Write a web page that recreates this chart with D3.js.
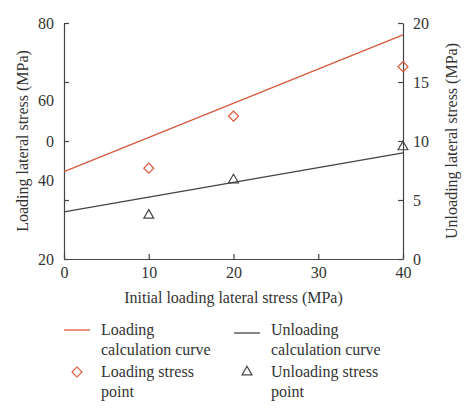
<!DOCTYPE html>
<html>
<head>
<meta charset="utf-8">
<script src="https://cdn.jsdelivr.net/npm/d3@7"></script>
<style>
  body { margin: 0; background: #fff; }
  text { font-family: "Liberation Serif", "DejaVu Serif", serif; fill: #333; }
</style>
</head>
<body>
<svg id="chart" width="474" height="417"></svg>
<script>
// data (right-axis units)
const lineX = [0, 40];
const loadingCurve = [7.4, 19.0];
const unloadingCurve = [4.0, 9.0];
const pointX = [10, 20, 40];
const loadingPoints = [7.7, 12.1, 16.3];
const unloadingPoints = [3.7, 6.7, 9.5];
const xTicks = [0, 10, 20, 30, 40];
const rightTicks = [0, 5, 10, 15, 20];
const leftTickVals = [20, 35, 50, 65, 80];
const leftTickLabels = ["20", "40", "0", "60", "80"];
const leftLabelShift = [0, -20, 0, 18, 0];

const red = "#d9583b", dark = "#444";
const fs = "16px";
const svg = d3.select("#chart");
const m = { left: 64, right: 403, top: 23, bottom: 259 };

const x = d3.scaleLinear().domain([0, 40]).range([m.left, m.right]);
const yR = d3.scaleLinear().domain([0, 20]).range([m.bottom, m.top]);
const yL = d3.scaleLinear().domain([20, 80]).range([m.bottom, m.top]);

function styleAxis(g) {
  g.select(".domain").attr("stroke", dark).attr("stroke-width", 1.2);
  g.selectAll(".tick line").attr("stroke", dark).attr("stroke-width", 1.2);
  g.selectAll(".tick text").style("font-size", fs).attr("fill", "#333");
}

svg.append("g").attr("transform", `translate(0,${m.bottom})`)
  .call(d3.axisBottom(x).tickValues(xTicks).tickSize(-5).tickSizeOuter(0).tickPadding(8))
  .call(styleAxis);

const gl = svg.append("g").attr("transform", `translate(${m.left},0)`)
  .call(d3.axisLeft(yL).tickValues(leftTickVals).tickSize(-5).tickSizeOuter(0).tickPadding(10)
    .tickFormat((d, i) => leftTickLabels[i]))
  .call(styleAxis);
gl.selectAll(".tick text").attr("dy", (d, i) => (5 + leftLabelShift[i]) + "px");

svg.append("g").attr("transform", `translate(${m.right},0)`)
  .call(d3.axisRight(yR).tickValues(rightTicks).tickSize(-5).tickSizeOuter(0).tickPadding(10))
  .call(styleAxis);

const line = d3.line().x(d => x(d[0])).y(d => yR(d[1]));
svg.append("path").datum(d3.zip(lineX, loadingCurve)).attr("d", line)
  .attr("fill", "none").attr("stroke", red).attr("stroke-width", 1.3);
svg.append("path").datum(d3.zip(lineX, unloadingCurve)).attr("d", line)
  .attr("fill", "none").attr("stroke", dark).attr("stroke-width", 1.3);

const square = d3.symbol().type(d3.symbolSquare).size(50);
const tri = d3.symbol().type(d3.symbolTriangle2 || d3.symbolTriangle).size(70);
svg.selectAll(".lp").data(d3.zip(pointX, loadingPoints)).join("path")
  .attr("d", square)
  .attr("transform", d => `translate(${x(d[0])},${yR(d[1])}) rotate(45)`)
  .attr("fill", "none").attr("stroke", red).attr("stroke-width", 1.2);
svg.selectAll(".up").data(d3.zip(pointX, unloadingPoints)).join("path")
  .attr("transform", d => `translate(${x(d[0])},${yR(d[1])})`)
  .attr("d", tri)
  .attr("fill", "none").attr("stroke", dark).attr("stroke-width", 1.2);

svg.append("text").attr("x", (m.left + m.right) / 2).attr("y", 303)
  .attr("text-anchor", "middle").style("font-size", fs)
  .text("Initial loading lateral stress (MPa)");
svg.append("text").attr("transform", `translate(28,${(m.top + m.bottom) / 2}) rotate(-90)`)
  .attr("text-anchor", "middle").style("font-size", fs)
  .text("Loading lateral stress (MPa)");
svg.append("text").attr("transform", `translate(457,${(m.top + m.bottom) / 2}) rotate(-90)`)
  .attr("text-anchor", "middle").style("font-size", fs)
  .text("Unloading lateral stress (MPa)");

// legend
const leg = svg.append("g").style("font-size", fs);
function legText(xp, yp, lines) {
  const t = leg.append("text").attr("x", xp).attr("y", yp);
  lines.forEach((s, i) => t.append("tspan").attr("x", xp).attr("dy", i ? 20 : 0).text(s));
}
leg.append("line").attr("x1", 64).attr("x2", 90).attr("y1", 330).attr("y2", 330).attr("stroke", red).attr("stroke-width", 1.3);
legText(101, 335, ["Loading", "calculation curve"]);
leg.append("line").attr("x1", 234).attr("x2", 260).attr("y1", 333).attr("y2", 333).attr("stroke", dark).attr("stroke-width", 1.3);
legText(271, 335, ["Unloading", "calculation curve"]);
leg.append("path").attr("d", square).attr("transform", "translate(77,372) rotate(45)")
  .attr("fill", "none").attr("stroke", red).attr("stroke-width", 1.2);
legText(101, 377, ["Loading stress", "point"]);
leg.append("path").attr("d", tri).attr("transform", "translate(247,372)")
  .attr("fill", "none").attr("stroke", dark).attr("stroke-width", 1.2);
legText(271, 377, ["Unloading stress", "point"]);
</script>
</body>
</html>
